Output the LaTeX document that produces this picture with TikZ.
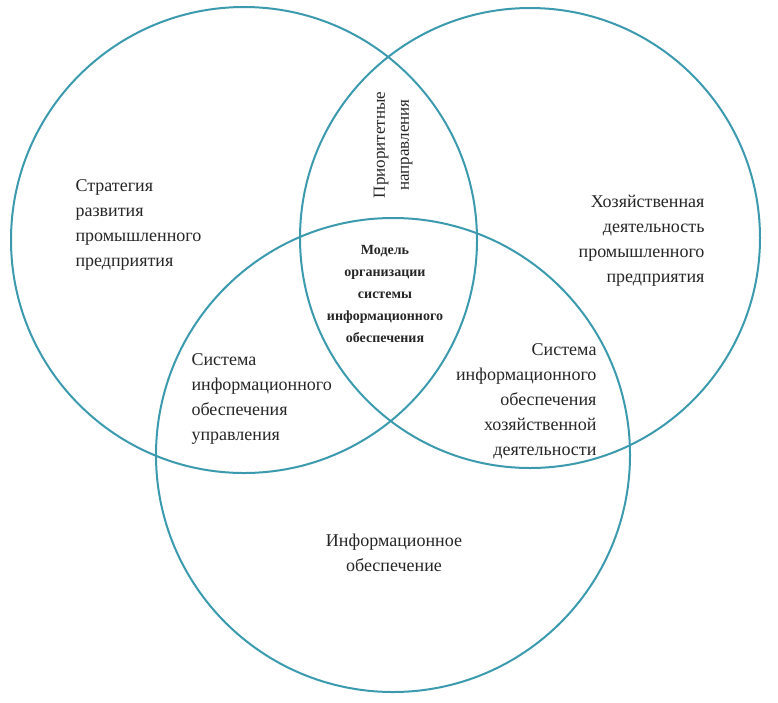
\documentclass[tikz,border=0pt]{standalone}
\usepackage{fontspec}
\setmainfont{Liberation Serif}
\definecolor{ring}{HTML}{3C9AAE}
\begin{document}
\begin{tikzpicture}[x=1pt,y=-1pt,
  circ/.style={draw=ring, line width=2pt},
  lbl/.style={font=\fontsize{18}{25}\selectfont, align=left, text=black!85}]
\useasboundingbox (0,0) rectangle (778,702);
\node[circle,circ,minimum size=466pt] (L) at (244,240) {};
\node[circle,circ,minimum size=460pt] (R) at (530,238) {};
\node[circle,circ,minimum size=474pt] (B) at (393,455) {};
\node[lbl,anchor=north west] (t1) at (72,176) {Стратегия\\развития\\промышленного\\предприятия};
\node[lbl,align=right,anchor=north east] (t2) at (708,192) {Хозяйственная\\деятельность\\промышленного\\предприятия};
\node[lbl,rotate=90,align=center,font=\fontsize{17}{24}\selectfont] (t3) at (393,145) {Приоритетные\\направления};
\node[lbl,align=center,font=\fontsize{14}{22}\selectfont\bfseries] (t4) at (385,294) {Модель\\организации\\системы\\информационного\\обеспечения};
\node[lbl,anchor=north west] (t5) at (188,350) {Система\\информационного\\обеспечения\\управления};
\node[lbl,align=right,anchor=north east] (t6) at (600,340) {Система\\информационного\\обеспечения\\хозяйственной\\деятельности};
\node[lbl,align=center] (t7) at (394,553) {Информационное\\обеспечение};
\end{tikzpicture}
\end{document}
